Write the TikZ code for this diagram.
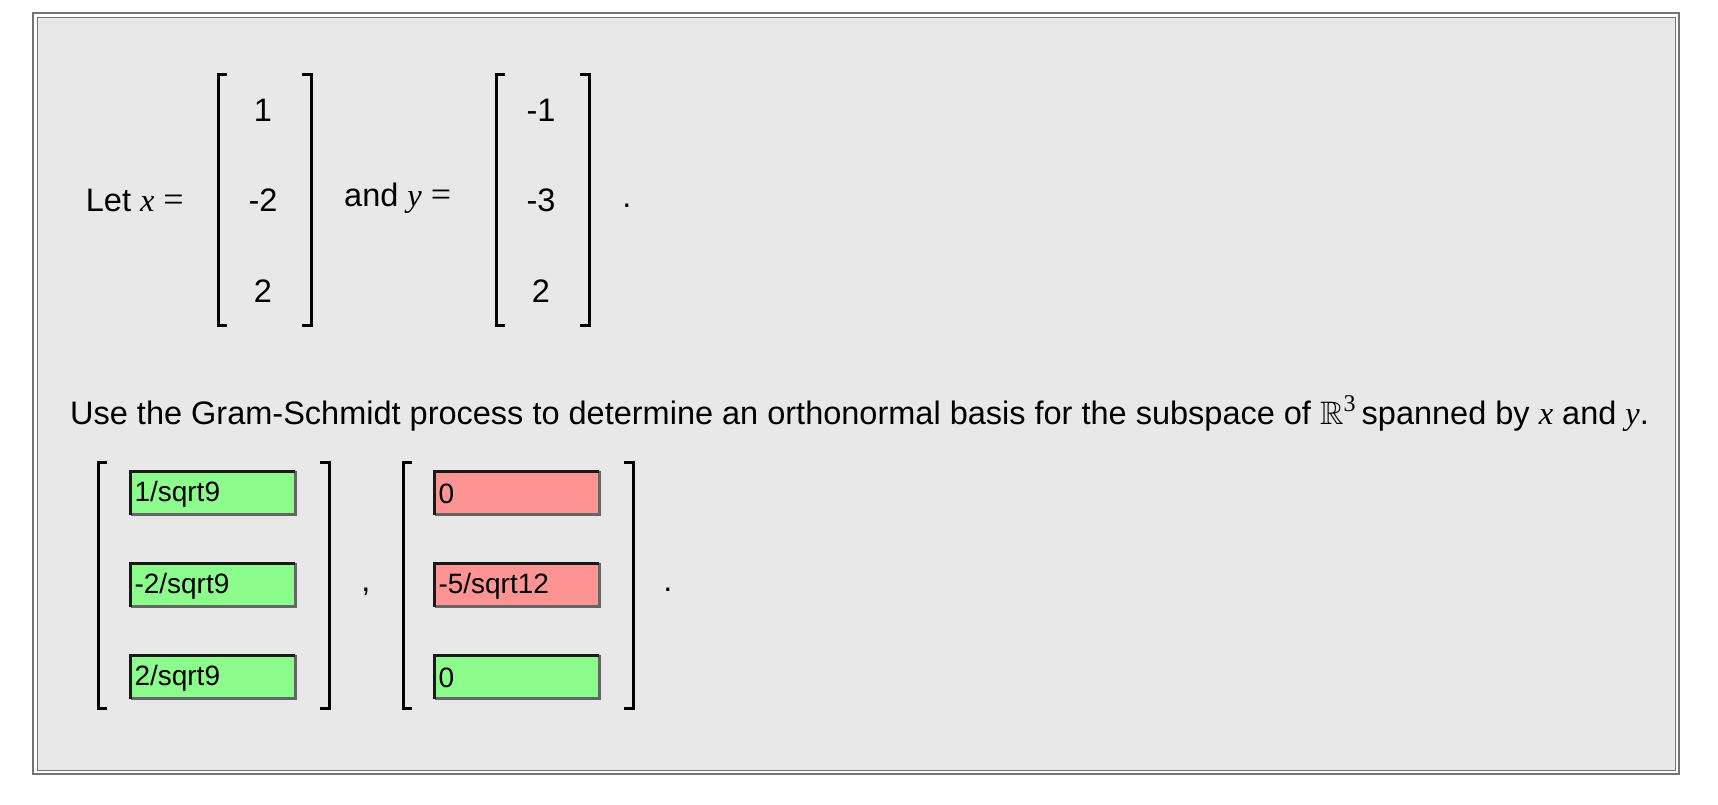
\documentclass[tikz,border=0pt]{standalone}
\usepackage{fontspec}
\setmainfont{Liberation Sans}
\newfontfamily\mathserif{Liberation Serif}
\usepackage{amssymb}
\definecolor{bg}{HTML}{E8E8E8}
\definecolor{okg}{HTML}{8CFC8C}
\definecolor{bad}{HTML}{FC9494}
\begin{document}
\begin{tikzpicture}[x=1pt,y=-1pt,
  txt/.style={font=\fontsize{32.5}{36}\selectfont, inner sep=0pt},
  brk/.style={line width=3pt},
  ans/.style={minimum width=167pt, minimum height=40pt, inner sep=0pt}]
\useasboundingbox (0,0) rectangle (1718,804);
\fill[white] (0,0) rectangle (1718,804);
\draw[line width=1.5pt, black!55] (33,13) rectangle (1679,774);
\draw[line width=1pt, black!55, fill=bg] (37,17) rectangle (1675,770);
\newcommand{\brak}[4]{% xl, xr, ytop, ybot
  \draw[brk] (#1+9,#3) -- (#1,#3) -- (#1,#4) -- (#1+9,#4);
  \draw[brk] (#2-9,#3) -- (#2,#3) -- (#2,#4) -- (#2-9,#4);}
\newcommand{\eqs}{\hspace{9pt}{\mathserif\fontsize{36}{36}\selectfont =}}
\brak{218}{311}{74}{325}
\brak{496}{589}{74}{325}
\node[txt, anchor=east] (lx) at (184,200) {Let {\mathserif\itshape x}\eqs};
\node[txt] (x1) at (263,110) {1};
\node[txt] (x2) at (263,200) {-2};
\node[txt] (x3) at (263,291) {2};
\node[txt, anchor=west] (ay) at (344,198) {and {\mathserif\itshape y}\eqs};
\node[txt] (y1) at (541,110) {-1};
\node[txt] (y2) at (541,200) {-3};
\node[txt] (y3) at (541,291) {2};
\node[txt] (p1) at (627,206) {.};
\node[txt, anchor=west] (q) at (70,414) {Use the Gram-Schmidt process to determine an orthonormal basis for the subspace of $\mathbb{R}$\raisebox{13pt}{\mathserif\fontsize{24}{24}\selectfont 3}\hspace{6pt}spanned by {\mathserif\itshape x} and {\mathserif\itshape y}.};
\brak{98}{329}{462}{708}
\brak{403}{633}{462}{708}
\newcommand{\abox}[5]{% name, x, y, color, text
  \node[ans, fill=#4] (#1) at (#2,#3) {};
  \draw[line width=3pt, black!60] ([xshift=1.5pt,yshift=-1.5pt]#1.south west) -- ([xshift=-1.5pt,yshift=-1.5pt]#1.south east) -- ([xshift=-1.5pt,yshift=1.5pt]#1.north east);
  \draw[line width=3pt, black!90] ([xshift=1.5pt,yshift=-1.5pt]#1.south west) -- ([xshift=1.5pt,yshift=1.5pt]#1.north west) -- ([xshift=-1.5pt,yshift=1.5pt]#1.north east);
  \node[font=\fontsize{28}{30}\selectfont, inner sep=0pt, anchor=west] at ([xshift=5pt,yshift=-1pt]#1.west) {#5};}
\abox{a1}{213}{493}{okg}{1/sqrt9}
\abox{a2}{213}{585}{okg}{-2/sqrt9}
\abox{a3}{213}{677}{okg}{2/sqrt9}
\abox{b1}{517}{493}{bad}{0}
\abox{b2}{517}{585}{bad}{-5/sqrt12}
\abox{b3}{517}{677}{okg}{0}
\node[txt] (cm) at (366,592) {,};
\node[txt] (p2) at (668,590) {.};
\end{tikzpicture}
\end{document}
